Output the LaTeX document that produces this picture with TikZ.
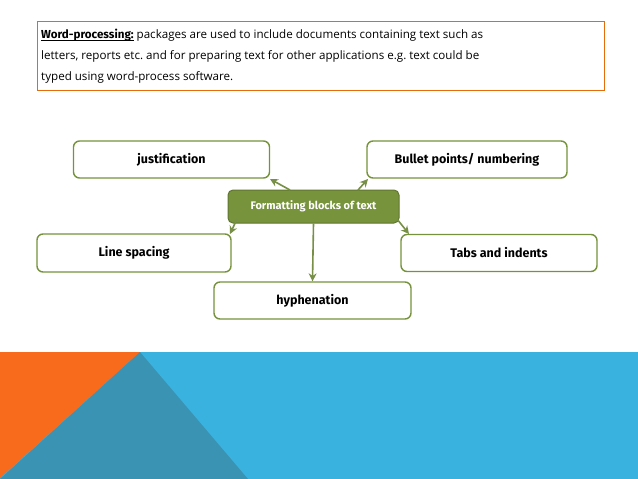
\documentclass[tikz,border=0pt]{standalone}
\usepackage{fontspec}
\setmainfont{Open Sans}
\newfontfamily\lbl{Fira Sans}
\usetikzlibrary{arrows.meta}
\definecolor{gr}{HTML}{77933C}
\definecolor{grb}{HTML}{76923C}
\definecolor{orb}{HTML}{E46C0A}
\definecolor{org}{HTML}{F96B1C}
\definecolor{teal}{HTML}{3A93B3}
\definecolor{sky}{HTML}{3AB2E0}
\begin{document}
\begin{tikzpicture}[x=1pt,y=-1pt,
  bx/.style={draw=grb,line width=1.4pt,rounded corners=6pt,fill=white,minimum width=196pt,minimum height=37pt,font=\lbl\fontsize{12.5}{14}\selectfont\bfseries,inner sep=0pt},
  ar/.style={draw=grb!85!gray,line width=1.6pt,-{Stealth[length=8pt,width=8pt]}}]
\useasboundingbox (0,0) rectangle (638,479);
\fill[white] (0,0) rectangle (638,479);
\fill[sky] (0,352) rectangle (638,479);
\fill[org] (0,352) -- (140,352) -- (0,478) -- cycle;
\fill[teal] (140,352) -- (248,479) -- (0,479) -- cycle;
\node[draw=orb,line width=1.4pt,fill=white,minimum width=567pt,minimum height=69pt,anchor=north west,inner sep=0pt] (top) at (37,21) {};
\node[anchor=north west,align=left,inner sep=0pt,font=\fontsize{11.6}{21}\selectfont\frenchspacing] (tt) at (41,29)
{{\lbl\bfseries\underbar{Word-processing:}} packages are used to include documents containing text such as\\ letters, reports etc. and for preparing text for other applications e.g. text could be\\ typed using word-process software.};
\node[bx] (j) at (171.5,159.5) {justification};
\node[bx,minimum width=200pt] (b) at (467,159.5) {Bullet points/ numbering};
\node[bx,minimum width=194pt,minimum height=38pt] (l) at (134,253) {Line spacing};
\node[bx] (t) at (499,253) {Tabs and indents};
\node[bx,minimum width=197pt] (h) at (312.5,300.5) {hyphenation};
\node[draw=gr!80!black,fill=gr,line width=1pt,rounded corners=5pt,minimum width=171pt,minimum height=33pt,text=white,font=\lbl\fontsize{11}{13}\selectfont\bfseries] (c) at (313.5,206.5) {Formatting blocks of text};
\coordinate (c1) at (290,190);
\coordinate (c2) at (358,190);
\coordinate (c3) at (237,219);
\coordinate (c4) at (397,219);
\draw[ar] (c1) -- (270,179);
\draw[ar] (c2) -- (368,179);
\draw[ar] (c3) -- (230,234);
\draw[ar] (c4) -- (409,234);
\draw[ar] (c.south) -- (h.north);
\end{tikzpicture}
\end{document}
